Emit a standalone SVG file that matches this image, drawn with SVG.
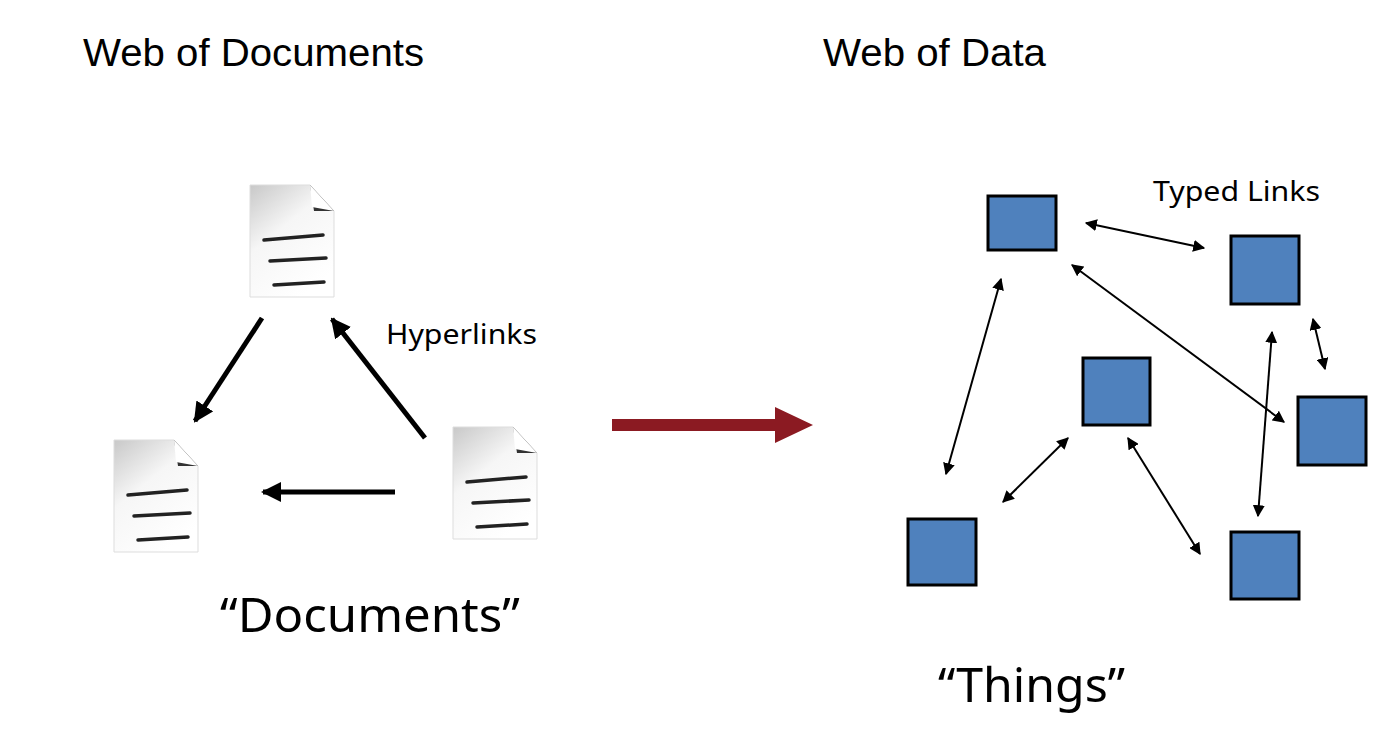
<svg xmlns="http://www.w3.org/2000/svg" width="1400" height="743" viewBox="0 0 1400 743">
<style>
.t{font-family:"Liberation Sans",Arial,sans-serif;font-size:38px;fill:#000}
.c{font-family:"Noto Sans","Open Sans",sans-serif;fill:#000}
.box{fill:#4f81bd;stroke:#000;stroke-width:3}
.tl{stroke:#000;stroke-width:2;fill:none;marker-start:url(#hs);marker-end:url(#he)}
.bl{stroke:#000;stroke-width:5;fill:none;marker-end:url(#bh)}
.pg{fill:url(#pg);stroke:#ddd;stroke-width:1}
.ln{stroke:#222;stroke-width:3.5;stroke-linecap:round;fill:none}
</style>
<defs>
<marker id="he" viewBox="0 0 10 10" refX="9" refY="5" markerWidth="6" markerHeight="6" orient="auto"><path d="M0,0L10,5L0,10z" fill="#000"/></marker>
<marker id="hs" viewBox="0 0 10 10" refX="1" refY="5" markerWidth="6" markerHeight="6" orient="auto"><path d="M10,0L0,5L10,10z" fill="#000"/></marker>
<marker id="bh" viewBox="0 0 10 10" refX="9" refY="5" markerWidth="4" markerHeight="4" orient="auto"><path d="M0,0L10,5L0,10z" fill="#000"/></marker>
<linearGradient id="pg" x1="0" y1="0" x2="0.6" y2="1"><stop offset="0" stop-color="#c8c8c8"/><stop offset="0.45" stop-color="#f6f6f6"/><stop offset="1" stop-color="#fff"/></linearGradient>
<symbol id="doc" viewBox="0 0 88 116"><path class="pg" d="M2,2H62L86,28V114H2Z"/><path d="M62,2L86,28H66Z" fill="#333"/><path d="M62,2L64,24L86,28Z" fill="#fff"/><path class="ln" d="M16,57L75,52M22,78L78,75M26,102L76,99"/></symbol>
</defs>
<text class="t" x="83" y="66" textLength="341" lengthAdjust="spacingAndGlyphs">Web of Documents</text>
<text class="t" x="823" y="66" textLength="223" lengthAdjust="spacingAndGlyphs">Web of Data</text>
<g id="doc-top"><use href="#doc" x="248" y="183" width="88" height="116"/></g>
<g id="doc-left"><use href="#doc" x="112" y="438" width="88" height="116"/></g>
<g id="doc-right"><use href="#doc" x="451" y="425" width="88" height="116"/></g>
<text class="c" x="386" y="344" font-size="28" textLength="151" lengthAdjust="spacingAndGlyphs">Hyperlinks</text>
<text class="c" x="220" y="632" font-size="48" textLength="300" lengthAdjust="spacingAndGlyphs">“Documents”</text>
<g id="things">
<rect id="n1" class="box" x="988" y="196" width="68" height="54"/>
<rect id="n2" class="box" x="1231" y="236" width="68" height="68"/>
<rect id="n3" class="box" x="1083" y="358" width="67" height="67"/>
<rect id="n4" class="box" x="1298" y="397" width="68" height="68"/>
<rect id="n5" class="box" x="908" y="519" width="68" height="66"/>
<rect id="n6" class="box" x="1231" y="532" width="68" height="67"/>
</g>
<text class="c" x="1153" y="201" font-size="28" textLength="167" lengthAdjust="spacingAndGlyphs">Typed Links</text>
<text class="c" x="938" y="702" font-size="48" textLength="187" lengthAdjust="spacingAndGlyphs">“Things”</text>
<g id="connectors">
<line class="bl" x1="262" y1="318" x2="195" y2="421"/>
<line class="bl" x1="425" y1="438" x2="332" y2="319"/>
<line class="bl" x1="395" y1="492" x2="263" y2="492"/>
<path d="M612,419H775V407L813,425L775,443V431H612Z" fill="#8b1a22"/>
<line class="tl" x1="1086" y1="223" x2="1204" y2="248"/>
<line class="tl" x1="1072" y1="265" x2="1284" y2="422"/>
<line class="tl" x1="1001" y1="279" x2="946" y2="474"/>
<line class="tl" x1="1313" y1="319" x2="1325" y2="369"/>
<line class="tl" x1="1272" y1="332" x2="1258" y2="516"/>
<line class="tl" x1="1068" y1="438" x2="1003" y2="502"/>
<line class="tl" x1="1128" y1="438" x2="1200" y2="554"/>
</g>
</svg>
